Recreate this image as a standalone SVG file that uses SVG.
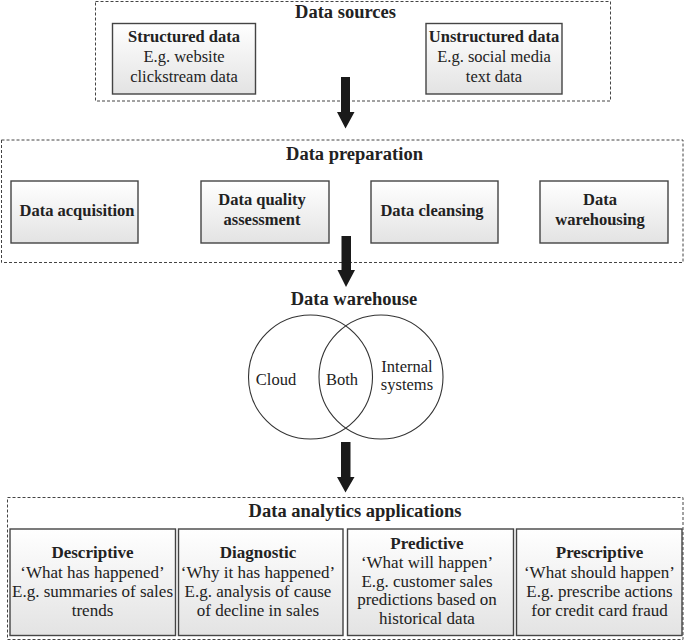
<svg xmlns="http://www.w3.org/2000/svg" width="685" height="641" viewBox="0 0 685 641">
<defs>
<linearGradient id="boxfill" x1="0" y1="0" x2="0" y2="1">
<stop offset="0" stop-color="#ffffff"/>
<stop offset="1" stop-color="#e3e3e3"/>
</linearGradient>
<style>
text{fill:#222;text-anchor:middle;font-family:'Liberation Serif','Times New Roman',serif}
.title{font-size:18.5px;font-weight:bold}
.bt{font-size:16.5px;font-weight:bold}
.rt{font-size:16.5px}
.b17{font-size:17px;font-weight:bold}
.r17{font-size:17px}
.group{fill:#fff;stroke:#444;stroke-width:1;stroke-dasharray:3 2}
.box{fill:url(#boxfill);stroke:#444;stroke-width:1.4}
.circ{fill:none;stroke:#333;stroke-width:1.1}
.arrow{fill:#1a1a1a;stroke:none}
</style>
</defs>
<rect width="685" height="641" fill="#fff"/>
<g id="data-sources">
<rect class="group" x="95.5" y="1.5" width="515" height="99.5"/>
<text class="title" x="345.5" y="18">Data sources</text>
</g>
<g id="structured-data">
<rect class="box" x="112.5" y="23.5" width="143" height="70.5"/>
<text class="bt" x="184" y="42">Structured data</text>
<text class="rt" x="184" y="62">E.g. website</text>
<text class="rt" x="184" y="82">clickstream data</text>
</g>
<g id="unstructured-data">
<rect class="box" x="426" y="23.5" width="136" height="70.5"/>
<text class="bt" x="494" y="42">Unstructured data</text>
<text class="rt" x="494" y="62">E.g. social media</text>
<text class="rt" x="494" y="82">text data</text>
</g>

<g id="data-preparation">
<rect class="group" x="1.5" y="140" width="681.5" height="122.5"/>
<text class="title" x="354.5" y="160">Data preparation</text>
</g>
<g id="data-acquisition">
<rect class="box" x="11" y="181" width="127" height="62"/>
<text class="bt" x="77" y="216">Data acquisition</text>
</g>
<g id="data-quality-assessment">
<rect class="box" x="201" y="181" width="128" height="62"/>
<text class="bt" x="262" y="205">Data quality</text>
<text class="bt" x="262" y="225">assessment</text>
</g>
<g id="data-cleansing">
<rect class="box" x="371" y="181" width="127" height="62"/>
<text class="bt" x="432" y="216">Data cleansing</text>
</g>
<g id="data-warehousing">
<rect class="box" x="540" y="181" width="128" height="62"/>
<text class="bt" x="600" y="205">Data</text>
<text class="bt" x="600" y="225">warehousing</text>
</g>

<g id="data-warehouse">
<text class="title" x="354" y="305">Data warehouse</text>
<circle class="circ" cx="310.5" cy="377" r="62"/>
<circle class="circ" cx="381" cy="377" r="62"/>
<text class="rt" x="276" y="385">Cloud</text>
<text class="rt" x="342" y="385">Both</text>
<text class="rt" x="407" y="372">Internal</text>
<text class="rt" x="407" y="390">systems</text>
</g>

<g id="data-analytics-applications">
<rect class="group" x="7.5" y="497.5" width="675.5" height="142"/>
<text class="title" x="355" y="517">Data analytics applications</text>
</g>
<g id="descriptive">
<rect class="box" x="10" y="529" width="165.5" height="106.5"/>
<text class="b17" x="92.5" y="558">Descriptive</text>
<text class="r17" x="92.5" y="577.5">‘What has happened’</text>
<text class="r17" x="92.5" y="597">E.g. summaries of sales</text>
<text class="r17" x="92.5" y="616">trends</text>
</g>
<g id="diagnostic">
<rect class="box" x="178.5" y="529" width="164.5" height="106.5"/>
<text class="b17" x="258" y="558">Diagnostic</text>
<text class="r17" x="258" y="577.5">‘Why it has happened’</text>
<text class="r17" x="258" y="597">E.g. analysis of cause</text>
<text class="r17" x="258" y="616">of decline in sales</text>
</g>
<g id="predictive">
<rect class="box" x="347.5" y="529" width="166" height="106.5"/>
<text class="b17" x="427" y="548.5">Predictive</text>
<text class="r17" x="427" y="567.5">‘What will happen’</text>
<text class="r17" x="427" y="586.5">E.g. customer sales</text>
<text class="r17" x="427" y="605">predictions based on</text>
<text class="r17" x="427" y="623.5">historical data</text>
</g>
<g id="prescriptive">
<rect class="box" x="516.5" y="529" width="165.5" height="106.5"/>
<text class="b17" x="599.5" y="558">Prescriptive</text>
<text class="r17" x="599.5" y="577.5">‘What should happen’</text>
<text class="r17" x="599.5" y="597">E.g. prescribe actions</text>
<text class="r17" x="599.5" y="616">for credit card fraud</text>
</g>
<g id="connectors">
<polygon class="arrow" points="341,77 350,77 350,112 354.5,112 345.5,128.5 337,112 341,112"/>
<polygon class="arrow" points="341.5,236 351,236 351,270 355,270 346,287 337.5,270 341.5,270"/>
<polygon class="arrow" points="341,442 350.5,442 350.5,477 354.5,477 345.5,492.5 337,477 341,477"/>
</g>
</svg>
